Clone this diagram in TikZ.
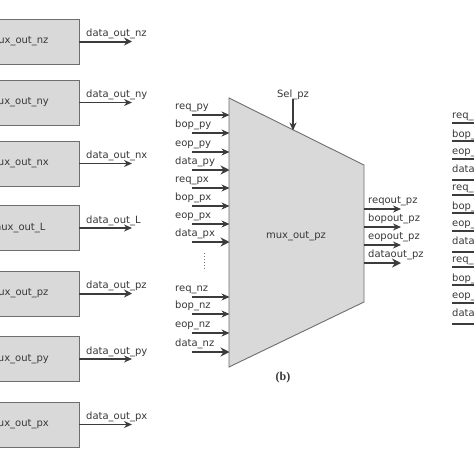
\documentclass[tikz,border=0pt]{standalone}
\usepackage{fontspec}
\setmainfont{DejaVu Sans}
\newfontfamily\capserif{Liberation Serif}
\usetikzlibrary{arrows.meta}
\definecolor{boxfill}{HTML}{D9D9D9}
\definecolor{boxline}{HTML}{6E6E6E}
\definecolor{arr}{HTML}{3C3C3C}
\definecolor{txt}{HTML}{383838}
\tikzset{
  mbox/.style={draw=boxline, fill=boxfill, line width=0.9pt, minimum width=121pt, minimum height=45pt, inner sep=0pt,
    font=\fontsize{10}{12}\selectfont, text=txt},
  lab/.style={font=\fontsize{10}{12}\selectfont, text=txt, inner sep=0pt},
  thinar/.style={draw=arr, line width=1.3pt, -{Stealth[length=8pt,width=7pt]}},
  medar/.style={draw=arr, line width=2pt, -{Stealth[length=8pt,width=8pt]}},
  thickar/.style={draw=arr, line width=2.8pt, -{Stealth[length=9pt,width=9pt]}},
  thinln/.style={draw=arr, line width=1.2pt},
  thickln/.style={draw=arr, line width=2.8pt},
}
\begin{document}
\begin{tikzpicture}[x=1pt,y=-1pt]
\useasboundingbox (0,0) rectangle (474,474);
\fill[white] (0,0) rectangle (474,474);
\clip (0,0) rectangle (474,474);

% ---------- left column of muxes ----------
\foreach \n/\y/\st in {nz/41.5/medar, ny/102.5/thinar, nx/163.5/thinar, L/228/thinar, pz/293.5/medar, py/359/thinar, px/424.5/thinar} {
  \node[mbox] (box\n) at (18.5,\y) {mux\_out\_\n};
  \coordinate (end\n) at (132,\y);
  \draw[\st] (box\n.east) -- (end\n);
  \node[lab, anchor=base west] (lab\n) at (86,\y-5) {data\_out\_\n};
}

% ---------- central mux (b) ----------
\coordinate (tl) at (229,98);
\coordinate (tr) at (364,165);
\coordinate (br) at (364,302);
\coordinate (bl) at (229,367);
\draw[fill=boxfill, draw=boxline, line width=0.9pt] (tl) -- (tr) -- (br) -- (bl) -- cycle;
\node[lab] (muxlab) at (296,236) {mux\_out\_pz};

% select input
\node[lab] (sel) at (293,95) {Sel\_pz};
\coordinate (selend) at (293,130.5);
\draw[thinar] (sel.south) ++(0,-1) coordinate (selstart) (selstart) -- (selend);

% inputs
\foreach \i/\t/\y/\st in {1/req\_py/115/thinar, 2/bop\_py/133/thinar, 3/eop\_py/152/thinar, 4/data\_py/170/thickar,
                          5/req\_px/188/thinar, 6/bop\_px/206/thinar, 7/eop\_px/224/thinar, 8/data\_px/242/thickar,
                          9/req\_nz/297/thinar, 10/bop\_nz/314/thinar, 11/eop\_nz/333/thinar, 12/data\_nz/352/thickar} {
  \node[lab, anchor=base west] (in\i) at (175,\y-6) {\t};
  \coordinate (ins\i) at (192,\y);
  \coordinate (ine\i) at (229.5,\y);
  \draw[\st] (ins\i) -- (ine\i);
}
\coordinate (dotA) at (204,253);
\coordinate (dotB) at (204,271);
\draw[arr!70, line width=1pt, dotted] (dotA) -- (dotB);

% outputs
\foreach \i/\t/\y/\st in {1/reqout\_pz/209/thinar, 2/bopout\_pz/227/thinar, 3/eopout\_pz/245/thinar, 4/dataout\_pz/263/thickar} {
  \node[lab, anchor=base west] (out\i) at (368,\y-6) {\t};
  \coordinate (outs\i) at (364,\y);
  \coordinate (oute\i) at (401,\y);
  \draw[\st] (outs\i) -- (oute\i);
}

\node[font=\capserif\bfseries\fontsize{12}{14}\selectfont, text=txt] (cap) at (283,378) {(b)};

% ---------- right column (cut off) ----------
\foreach \g/\o in {1/117, 2/189, 3/261} {
  \node[lab, anchor=west] (rq\g) at (452,\o) {req\_};
  \node[lab, anchor=west] (rb\g) at (452,\o+18) {bop\_};
  \node[lab, anchor=west] (re\g) at (452,\o+36) {eop\_};
  \node[lab, anchor=west] (rd\g) at (452,\o+52) {data};
  \coordinate (rqa\g) at (452,\o+6);  \coordinate (rqb\g) at (480,\o+6);
  \coordinate (rba\g) at (452,\o+24); \coordinate (rbb\g) at (480,\o+24);
  \coordinate (rea\g) at (452,\o+42); \coordinate (reb\g) at (480,\o+42);
  \coordinate (rda\g) at (452,\o+63); \coordinate (rdb\g) at (480,\o+63);
  \draw[thinln] (rqa\g) -- (rqb\g);
  \draw[thinln] (rba\g) -- (rbb\g);
  \draw[thinln] (rea\g) -- (reb\g);
  \draw[thickln] (rda\g) -- (rdb\g);
}
\end{tikzpicture}
\end{document}
